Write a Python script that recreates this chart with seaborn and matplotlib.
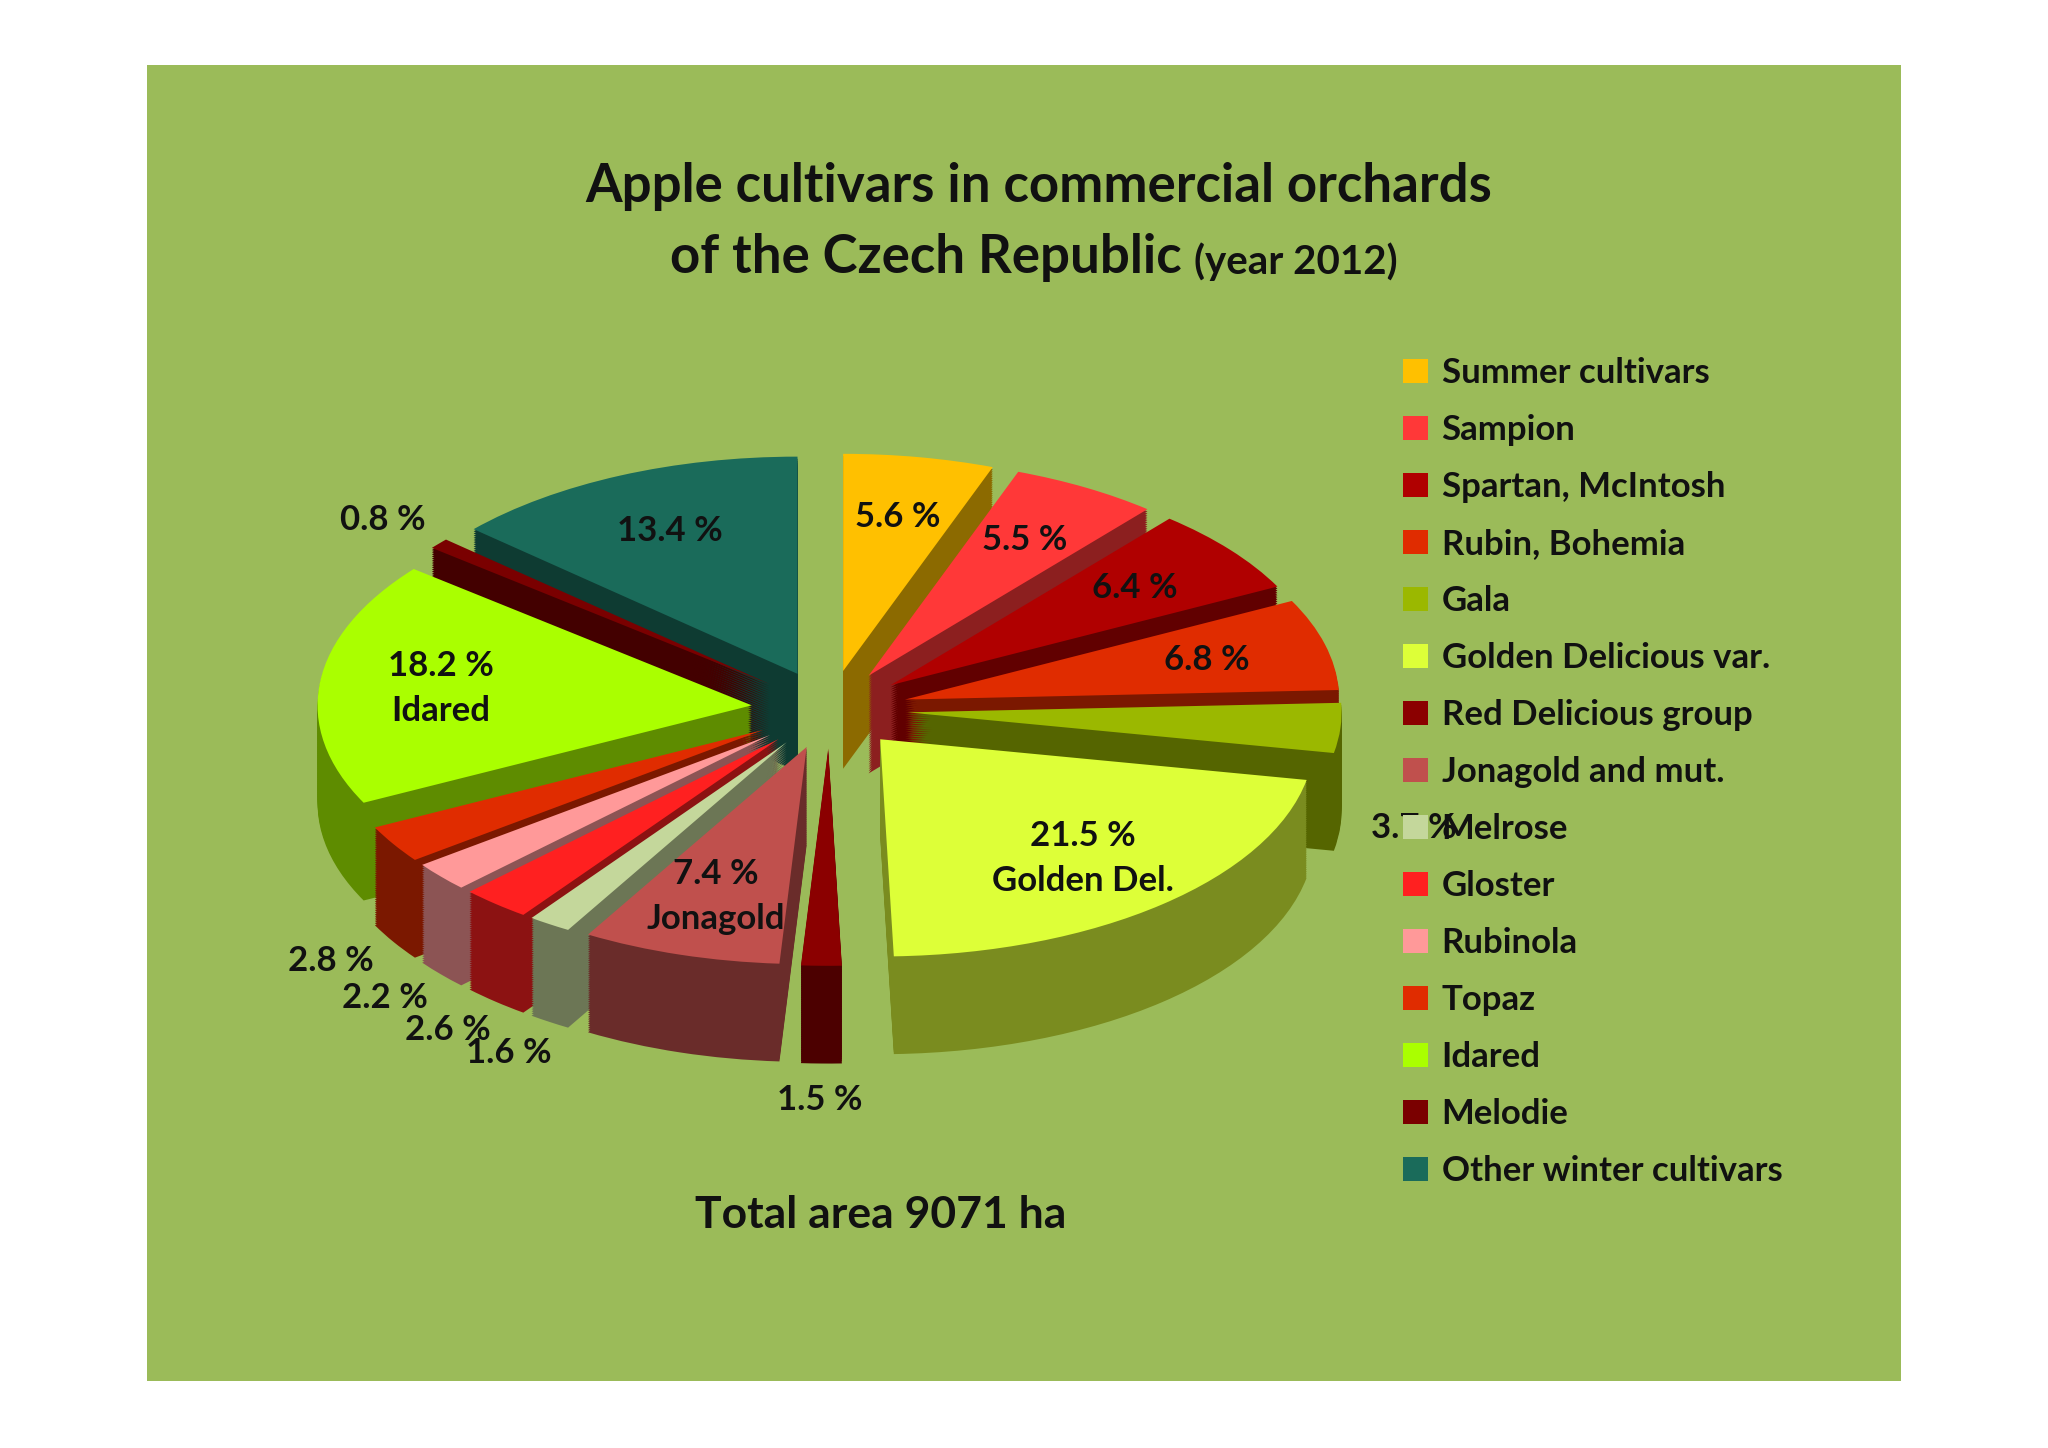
import matplotlib
matplotlib.use("Agg")
import matplotlib.pyplot as plt
import matplotlib.colors as mcolors
import seaborn as sns
import numpy as np
from matplotlib.patches import Rectangle, Patch

sns.set_theme(style="white")
plt.rcParams['font.family'] = ['Lato', 'DejaVu Sans']

cultivars = ["Summer cultivars", "Sampion", "Spartan, McIntosh", "Rubin, Bohemia", "Gala",
             "Golden Delicious var.", "Red Delicious group", "Jonagold and mut.", "Melrose",
             "Gloster", "Rubinola", "Topaz", "Idared", "Melodie", "Other winter cultivars"]
shares = [5.6, 5.5, 6.4, 6.8, 3.7, 21.5, 1.5, 7.4, 1.6, 2.6, 2.2, 2.8, 18.2, 0.8, 13.4]
colors = ["#FFC000", "#FF3838", "#B00000", "#E02C00", "#9BB800", "#DDFF38", "#8B0000",
          "#C0504D", "#C4D79B", "#FF2020", "#FF9999", "#E02C00", "#AAFF00", "#7A0000", "#1A6B5A"]
label_extra = {5: "Golden Del.", 7: "Jonagold", 12: "Idared"}

fig = plt.figure(figsize=(20.48, 14.48), dpi=100)
fig.patch.set_facecolor("white")
fig.add_artist(Rectangle((0.072, 0.046), 0.856, 0.909, transform=fig.transFigure,
                         facecolor="#9BBB59", edgecolor="none", zorder=0))

ax = fig.add_axes([0.14, 0.21, 0.53, 0.6])
ax.set_facecolor("none")
ax.axis("off")
ex = 0.18
explode = [ex] * len(shares)
dark = [tuple(np.array(mcolors.to_rgb(c)) * 0.55) for c in colors]
depth = 0.45
for d in np.linspace(depth, 0.01, 45):
    ax.pie(shares, colors=dark, startangle=90, counterclock=False, explode=explode,
           center=(0, -d), wedgeprops=dict(linewidth=0), frame=False)
ax.pie(shares, colors=colors, startangle=90, counterclock=False, explode=explode,
       center=(0, 0), wedgeprops=dict(linewidth=0), frame=False)
ax.set_aspect("auto")
ax.set_xlim(-1.25, 1.25)
ax.set_ylim(-2.0, 2.0)

cum = 0
for i, v in enumerate(shares):
    mid = np.deg2rad(90 - (cum + v / 2) * 3.6)
    cum += v
    txt = f"{v:.1f} %"
    if i in label_extra:
        txt += "\n" + label_extra[i]
    if v >= 5:
        r = 0.72 + ex
        x, y = r * np.cos(mid), r * np.sin(mid)
    else:
        r = 1.35
        x, y = r * np.cos(mid), r * np.sin(mid)
        if y < 0:
            y -= depth
    ax.text(x, y, txt, ha="center", va="center", fontsize=25, fontweight="bold",
            color="#111111", linespacing=1.5)

fig.text(0.507, 0.871, "Apple cultivars in commercial orchards", ha="center", va="center",
         fontsize=38, fontweight="bold", color="#111111")
fig.text(0.577, 0.822, "of the Czech Republic", ha="right", va="center",
         fontsize=38, fontweight="bold", color="#111111")
fig.text(0.583, 0.819, "(year 2012)", ha="left", va="center",
         fontsize=29, fontweight="bold", color="#111111")
fig.text(0.43, 0.161, "Total area 9071 ha", ha="center", va="center",
         fontsize=32, fontweight="bold", color="#111111")

handles = [Patch(facecolor=c, edgecolor="none") for c in colors]
leg = fig.legend(handles, cultivars, loc="upper left", bbox_to_anchor=(0.67, 0.775),
                 frameon=False, fontsize=25, handlelength=0.7, handleheight=0.7,
                 labelspacing=0.72, handletextpad=0.4)
for t in leg.get_texts():
    t.set_fontweight("bold")
    t.set_color("#111111")

fig.savefig("out.png", dpi=100, facecolor="white")
